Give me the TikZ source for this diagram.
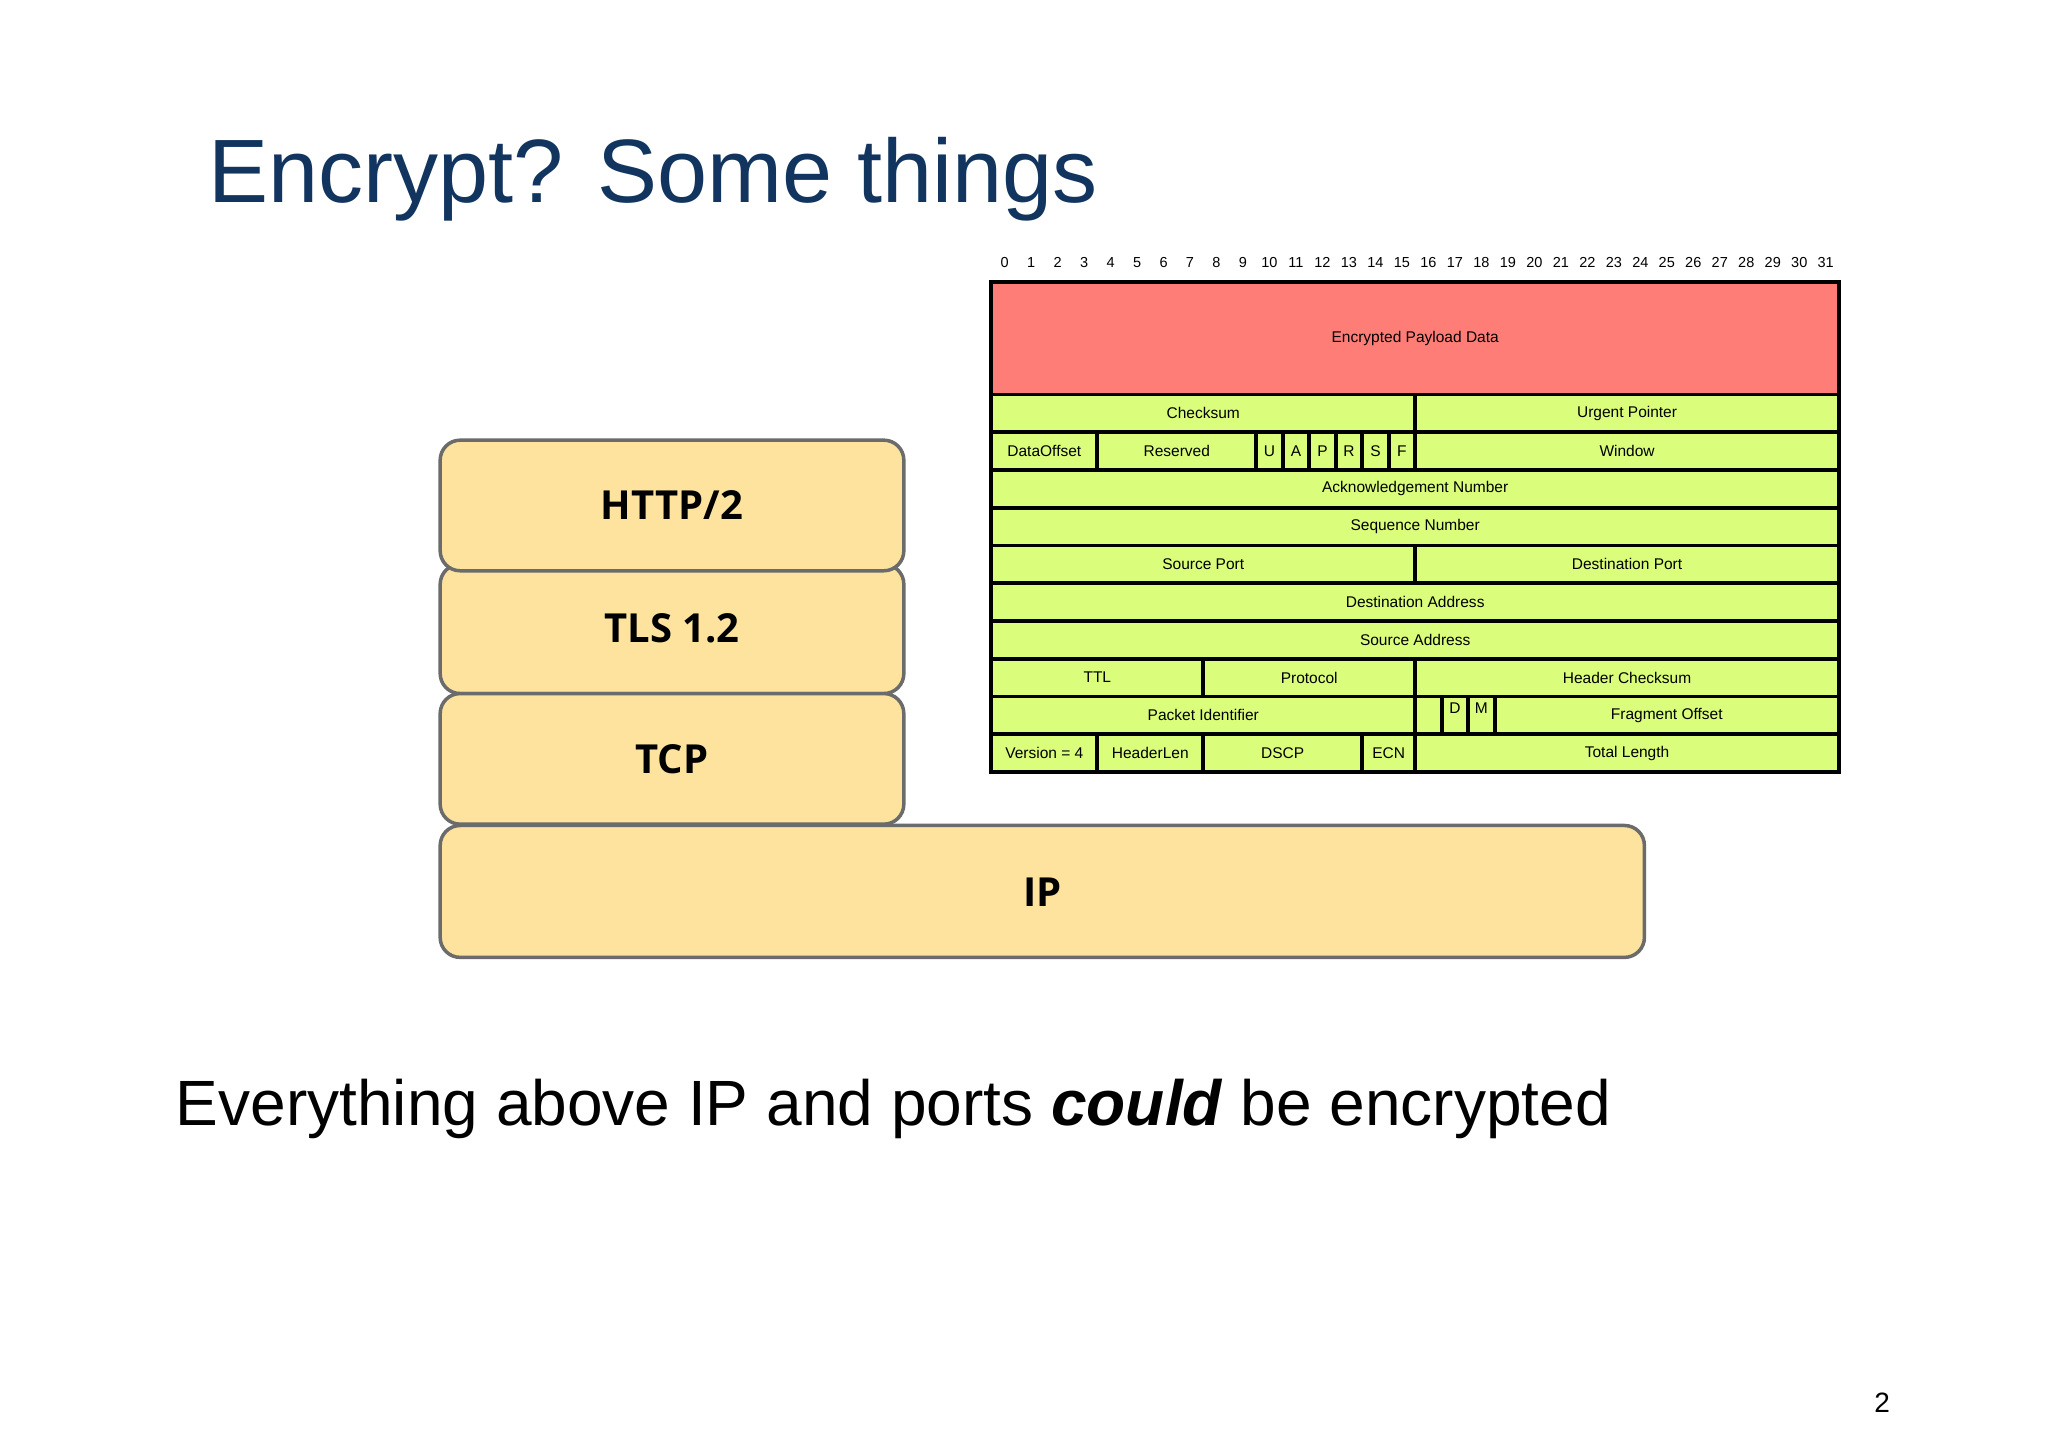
\documentclass[tikz,border=0pt]{standalone}
\usepackage{fontspec}
\setmainfont{Liberation Sans}
\newfontfamily\stackfont{Open Sans}
\definecolor{titleblue}{HTML}{12355F}
\definecolor{payred}{HTML}{FF7D77}
\definecolor{hdrgreen}{HTML}{DAFD7B}
\definecolor{layeryel}{HTML}{FDE39D}
\definecolor{layerbrd}{HTML}{6B6B6B}
\begin{document}
\begin{tikzpicture}[x=1.306pt,y=-1.306pt,
  layer/.style={draw=layerbrd,fill=layeryel,line width=3.5pt,rounded corners=20pt},
  layertxt/.style={font=\stackfont\bfseries\fontsize{40}{40}\selectfont},
  cell/.style={draw=black,line width=3.8pt,fill=hdrgreen},
  celltxt/.style={font=\fontsize{15.5}{16}\selectfont}]
\useasboundingbox (0,0) rectangle (1568,1108);
\fill[white] (0,0) rectangle (1568,1108);
\node[anchor=base west,text=titleblue,font=\fontsize{90}{90}\selectfont] (title) at (157,155) {Encrypt? Some things};
% stack
\draw[layer] (337,432) rectangle (692,531);
\draw[layer] (337,337) rectangle (692,437);
\draw[layer] (337,531) rectangle (692,631);
\draw[layer] (337,632) rectangle (1259,733);
\node[layertxt] (http) at (514.5,387) {HTTP/2};
\node[layertxt] (tls) at (514.5,481) {TLS 1.2};
\node[layertxt] (tcp) at (514.5,581) {TCP};
\node[layertxt] (ip) at (798,683) {IP};
% bit numbers
\foreach \i in {0,...,31}{
  \node[font=\fontsize{14.5}{15}\selectfont] (b\i) at ({759+(\i+0.5)*20.28},201) {\i};
}
% payload
\draw[cell,fill=payred] (759,216) rectangle (1408,302);
\node[celltxt] (payload) at (1083.5,259) {Encrypted Payload Data};
% header cells
\foreach \r/\s/\e/\t in {0/0/16/Checksum,0/16/32/Urgent Pointer,
  1/0/4/DataOffset,1/4/10/Reserved,1/10/11/U,1/11/12/A,1/12/13/P,1/13/14/R,1/14/15/S,1/15/16/F,1/16/32/Window,
  2/0/32/Acknowledgement Number,3/0/32/Sequence Number,
  4/0/16/Source Port,4/16/32/Destination Port,
  5/0/32/Destination Address,6/0/32/Source Address,
  7/0/8/TTL,7/8/16/Protocol,7/16/32/Header Checksum,
  8/0/16/Packet Identifier,8/16/17/{},8/19/32/Fragment Offset,
  9/0/4/Version = 4,9/4/8/HeaderLen,9/8/14/DSCP,9/14/16/ECN,9/16/32/Total Length}{
  \draw[cell] ({759+\s*20.28},{302+\r*28.9}) rectangle ({759+\e*20.28},{302+(\r+1)*28.9});
  \node[celltxt] at ({759+(\s+\e)*10.14},{302+(\r+0.5)*28.9}) {\t};
}
\foreach \s/\t in {17/D,18/M}{
  \draw[cell] ({759+\s*20.28},{302+8*28.9}) rectangle ({759+(\s+1)*20.28},{302+9*28.9});
  \node[celltxt,anchor=north] at ({759+(\s+0.5)*20.28},{302+8*28.9+2}) {\t};
}
\draw[line width=3.8pt] (759,216) rectangle (1408,591);
% bottom text
\node[anchor=base west,font=\fontsize{64}{64}\selectfont] (caption) at (132,862) {Everything above IP and ports \textbf{\textit{could}} be encrypted};
\node[font=\fontsize{28}{28}\selectfont] (page) at (1441,1074) {2};
\end{tikzpicture}
\end{document}
